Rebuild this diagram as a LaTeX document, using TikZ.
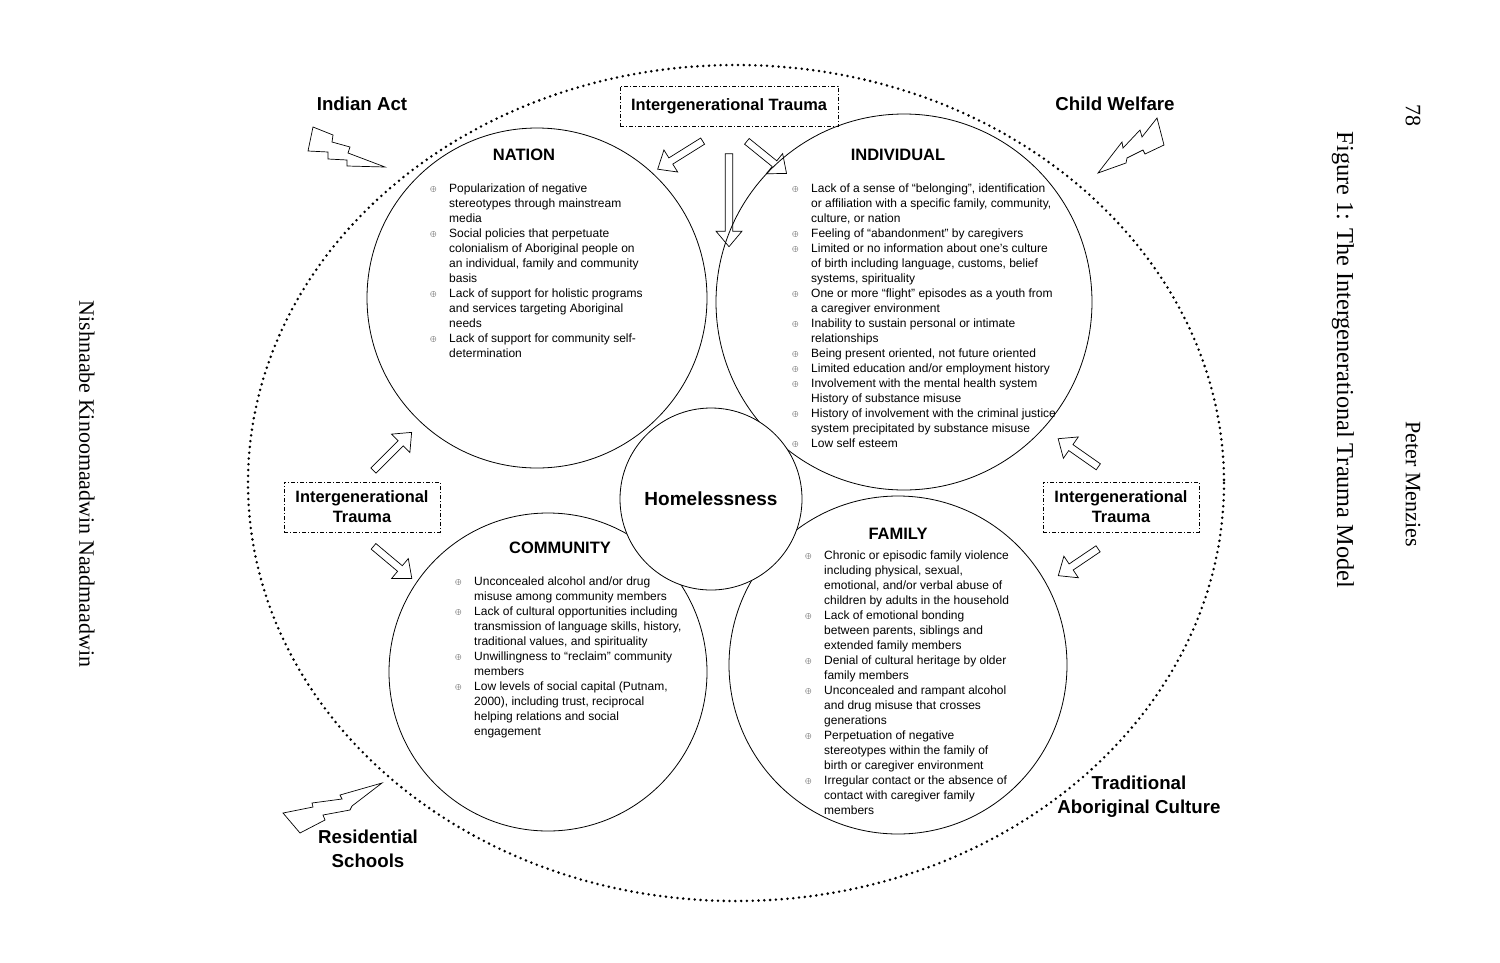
\documentclass[tikz,border=0pt]{standalone}
\usepackage{fontspec}
\setmainfont{Liberation Sans}
\newfontfamily\tnr{Liberation Serif}
\usetikzlibrary{shapes.arrows}
\newcommand{\itm}{\makebox[19pt][l]{\raisebox{1.5pt}{\footnotesize$\oplus$}}}
\newcommand{\ind}{\hspace*{19pt}}
\begin{document}
\begin{tikzpicture}[x=1pt,y=-1pt,
  circ/.style={circle,draw,line width=0.8pt,inner sep=0pt},
  ttl/.style={font=\fontsize{16.5}{18}\selectfont\bfseries},
  lbl/.style={font=\fontsize{18.7}{24}\selectfont\bfseries,align=center},
  lst/.style={anchor=north west,inner sep=0pt,align=left,font=\fontsize{12}{15}\selectfont},
  itbox/.style={draw,dash pattern=on 4pt off 2pt on 1pt off 2pt,line width=0.6pt,align=center,font=\fontsize{16.4}{20}\selectfont\bfseries},
  barr/.style={single arrow,draw,line width=0.7pt,minimum width=26pt,single arrow head extend=6pt,single arrow tip angle=80,inner sep=2pt},
  bolt/.style={draw,line width=0.7pt,fill=white},
  side/.style={rotate=-90,font=\tnr\fontsize{22}{26}\selectfont}]
\useasboundingbox (0,0) rectangle (1500,962);
\fill[white] (0,0) rectangle (1500,962);
% outer dotted ellipse
\draw[line width=2.8pt,line cap=round,dash pattern=on 0pt off 5.8pt] (736,483) ellipse [x radius=488,y radius=418];
% circles
\node[circ,minimum size=340pt] (nation) at (537,298) {};
\node[circ,minimum size=376pt] (indiv) at (904,302) {};
\node[circ,minimum size=318pt] (comm) at (548,672) {};
\node[circ,minimum size=338pt] (family) at (898,665) {};
\node[circ,fill=white,minimum size=182pt,font=\fontsize{19}{22}\selectfont\bfseries] (home) at (711,499) {Homelessness};
% titles
\node[ttl] (tn) at (524,155) {NATION};
\node[ttl] (ti) at (898,155) {INDIVIDUAL};
\node[ttl] (tc) at (560,548) {COMMUNITY};
\node[ttl] (tf) at (898,534) {FAMILY};
% lists
\node[lst] (ln) at (430,184) {\itm Popularization of negative\\ \ind stereotypes through mainstream\\ \ind media\\
\itm Social policies that perpetuate\\ \ind colonialism of Aboriginal people on\\ \ind an individual, family and community\\ \ind basis\\
\itm Lack of support for holistic programs\\ \ind and services targeting Aboriginal\\ \ind needs\\
\itm Lack of support for community self-\\ \ind determination};
\node[lst] (li) at (792,184) {\itm Lack of a sense of ``belonging'', identification\\ \ind or affiliation with a specific family, community,\\ \ind culture, or nation\\
\itm Feeling of ``abandonment'' by caregivers\\
\itm Limited or no information about one's culture\\ \ind of birth including language, customs, belief\\ \ind systems, spirituality\\
\itm One or more ``flight'' episodes as a youth from\\ \ind a caregiver environment\\
\itm Inability to sustain personal or intimate\\ \ind relationships\\
\itm Being present oriented, not future oriented\\
\itm Limited education and/or employment history\\
\itm Involvement with the mental health system\\ \ind History of substance misuse\\
\itm History of involvement with the criminal justice\\ \ind system precipitated by substance misuse\\
\itm Low self esteem};
\node[lst] (lc) at (455,577) {\itm Unconcealed alcohol and/or drug\\ \ind misuse among community members\\
\itm Lack of cultural opportunities including\\ \ind transmission of language skills, history,\\ \ind traditional values, and spirituality\\
\itm Unwillingness to ``reclaim'' community\\ \ind members\\
\itm Low levels of social capital (Putnam,\\ \ind 2000), including trust, reciprocal\\ \ind helping relations and social\\ \ind engagement};
\node[lst] (lf) at (805,551) {\itm Chronic or episodic family violence\\ \ind including physical, sexual,\\ \ind emotional, and/or verbal abuse of\\ \ind children by adults in the household\\
\itm Lack of emotional bonding\\ \ind between parents, siblings and\\ \ind extended family members\\
\itm Denial of cultural heritage by older\\ \ind family members\\
\itm Unconcealed and rampant alcohol\\ \ind and drug misuse that crosses\\ \ind generations\\
\itm Perpetuation of negative\\ \ind stereotypes within the family of\\ \ind birth or caregiver environment\\
\itm Irregular contact or the absence of\\ \ind contact with caregiver family\\ \ind members};
% IT boxes
\node[itbox,minimum width=218pt,minimum height=40pt] (it1) at (729,106) {Intergenerational Trauma};
\node[itbox,minimum width=156pt,minimum height=50pt] (it2) at (362,507) {Intergenerational\\Trauma};
\node[itbox,minimum width=156pt,minimum height=50pt] (it3) at (1121,507) {Intergenerational\\Trauma};
% block arrows
\node[barr,minimum height=53pt,rotate=212] (a1) at (682,154) {};
\node[barr,minimum height=93pt,rotate=270] (a2) at (729,198) {};
\node[barr,minimum height=51pt,rotate=321] (a3) at (765,156) {};
\node[barr,minimum height=54pt,rotate=45] (a4) at (391,453) {};
\node[barr,minimum height=50pt,rotate=320] (a5) at (391,561) {};
\node[barr,minimum height=49pt,rotate=145] (a6) at (1080,454) {};
\node[barr,minimum height=48pt,rotate=214] (a7) at (1080,561) {};
% outer labels
\node[lbl] (ia) at (362,104) {Indian Act};
\node[lbl] (cw) at (1115,104) {Child Welfare};
\node[lbl] (rs) at (368,849) {Residential\\Schools};
\node[lbl] (tac) at (1139,797) {Traditional\\Aboriginal Culture};
% bolts
\draw[bolt] (313,127) -- (333,135) -- (332,142) -- (350,147) -- (348,153) -- (385,167) -- (347,166) -- (347,160) -- (328,159) -- (328,152) -- (308,151) -- cycle;
\draw[bolt] (1098,173) -- (1122,142) -- (1123,148) -- (1140,130) -- (1142,137) -- (1157,118) -- (1164,145) -- (1145,154) -- (1143,150) -- (1127,158) -- (1126,163) -- cycle;
\draw[bolt] (382,783) -- (340,795) -- (342,799) -- (312,803) -- (313,807) -- (283,813) -- (300,833) -- (325,820) -- (323,815) -- (350,810) -- (352,806) -- cycle;
% side texts
\node[side] (s1) at (87,484) {Nishnaabe Kinoomaadwin Naadmaadwin};
\node[side,font=\tnr\fontsize{24.3}{28}\selectfont] (s2) at (1343,360) {Figure 1: The Intergenerational Trauma Model};
\node[side] (s3) at (1413,484) {Peter Menzies};
\node[side] (s4) at (1413,115) {78};
\end{tikzpicture}
\end{document}
